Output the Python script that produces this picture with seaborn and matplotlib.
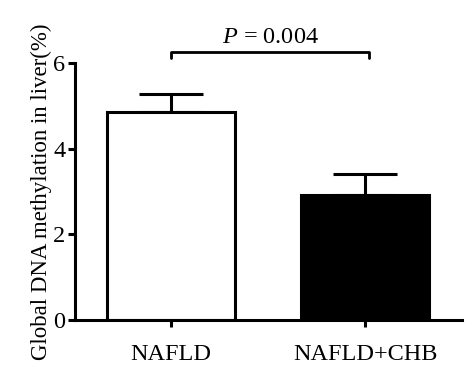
import matplotlib
matplotlib.use("Agg")
import matplotlib.pyplot as plt
import seaborn as sns
import pandas as pd

groups = ["NAFLD", "NAFLD+CHB"]
means = [4.86, 2.92]
sems = [0.42, 0.48]
p_text = "$\\mathit{P}$ = 0.004"

sns.set_style("ticks")
plt.rcParams["font.family"] = ["Liberation Serif", "DejaVu Serif"]
plt.rcParams["mathtext.fontset"] = "custom"
plt.rcParams["mathtext.it"] = "Liberation Serif:italic"
plt.rcParams["mathtext.rm"] = "Liberation Serif"
plt.rcParams["text.color"] = "black"
plt.rcParams["axes.labelcolor"] = "black"
plt.rcParams["xtick.color"] = "black"
plt.rcParams["ytick.color"] = "black"
plt.rcParams["axes.edgecolor"] = "black"

df = pd.DataFrame({"group": groups, "value": means})

fig = plt.figure(figsize=(4.74, 3.87), dpi=100)
ax = fig.add_axes([0.158, 0.173, 0.817, 0.664])
sns.barplot(data=df, x="group", y="value", hue="group",
            palette=["white", "black"], edgecolor="black", linewidth=2.2,
            width=0.66, errorbar=None, legend=False, ax=ax)
ax.errorbar(range(len(groups)), means, yerr=[[0, 0], sems], fmt="none",
            ecolor="black", elinewidth=2.2, capsize=23, capthick=2.2, zorder=0)

ax.set_xlim(-0.495, 1.5)
ax.set_ylim(0, 6)
ax.set_yticks([0, 2, 4, 6])
ax.set_xlabel("")
ax.set_ylabel("Global DNA methylation in liver(%)", fontsize=16.5, labelpad=1)
ax.tick_params(axis="both", labelsize=17.5, width=2.2, length=5, direction="out")
ax.tick_params(axis="x", pad=12)
ax.tick_params(axis="y", pad=2)
for s in ["left", "bottom"]:
    ax.spines[s].set_linewidth(2.2)
sns.despine(ax=ax)

# significance bracket
ax.plot([0, 0, 1.02, 1.02], [6.12, 6.26, 6.26, 6.12], color="black",
        lw=2.0, clip_on=False)
ax.text(0.51, 6.36, p_text, ha="center", va="bottom", fontsize=17.5)

fig.savefig("out.png", dpi=100)
